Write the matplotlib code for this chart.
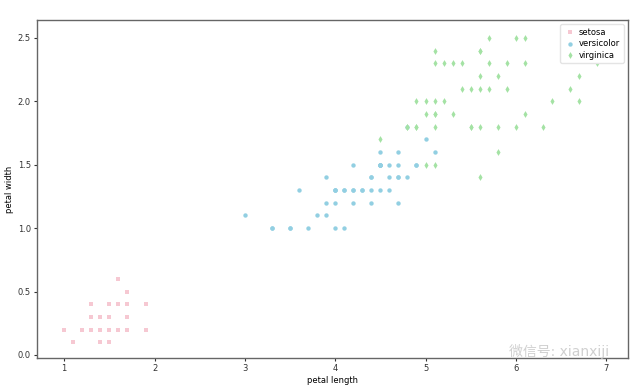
import matplotlib.pyplot as plt

plt.rcParams['font.family'] = ['DejaVu Sans', 'Noto Sans CJK SC']

setosa_len = [1.4, 1.4, 1.3, 1.5, 1.4, 1.7, 1.4, 1.5, 1.4, 1.5, 1.5, 1.6, 1.4, 1.1, 1.2, 1.5, 1.3,
              1.4, 1.7, 1.5, 1.7, 1.5, 1.0, 1.7, 1.9, 1.6, 1.6, 1.5, 1.4, 1.6, 1.6, 1.5, 1.5, 1.4,
              1.5, 1.2, 1.3, 1.4, 1.3, 1.5, 1.3, 1.3, 1.3, 1.6, 1.9, 1.4, 1.6, 1.4, 1.5, 1.4]
setosa_wid = [0.2, 0.2, 0.2, 0.2, 0.2, 0.4, 0.3, 0.2, 0.2, 0.1, 0.2, 0.2, 0.1, 0.1, 0.2, 0.4, 0.4,
              0.3, 0.3, 0.3, 0.2, 0.4, 0.2, 0.5, 0.2, 0.2, 0.4, 0.2, 0.2, 0.2, 0.2, 0.4, 0.1, 0.2,
              0.2, 0.2, 0.2, 0.1, 0.2, 0.2, 0.3, 0.3, 0.2, 0.6, 0.4, 0.3, 0.2, 0.2, 0.2, 0.2]

versicolor_len = [4.7, 4.5, 4.9, 4.0, 4.6, 4.5, 4.7, 3.3, 4.6, 3.9, 3.5, 4.2, 4.0, 4.7, 3.6, 4.4, 4.5,
                  4.1, 4.5, 3.9, 4.8, 4.0, 4.9, 4.7, 4.3, 4.4, 4.8, 5.0, 4.5, 3.5, 3.8, 3.7, 3.9, 5.1,
                  4.5, 4.5, 4.7, 4.4, 4.1, 4.0, 4.4, 4.6, 4.0, 3.3, 4.2, 4.2, 4.2, 4.3, 3.0, 4.1]
versicolor_wid = [1.4, 1.5, 1.5, 1.3, 1.5, 1.3, 1.6, 1.0, 1.3, 1.4, 1.0, 1.5, 1.0, 1.4, 1.3, 1.4, 1.5,
                  1.0, 1.5, 1.1, 1.8, 1.3, 1.5, 1.2, 1.3, 1.4, 1.4, 1.7, 1.5, 1.0, 1.1, 1.0, 1.2, 1.6,
                  1.5, 1.6, 1.5, 1.3, 1.3, 1.3, 1.2, 1.4, 1.2, 1.0, 1.3, 1.2, 1.3, 1.3, 1.1, 1.3]

virginica_len = [6.0, 5.1, 5.9, 5.6, 5.8, 6.6, 4.5, 6.3, 5.8, 6.1, 5.1, 5.3, 5.5, 5.0, 5.1, 5.3, 5.5,
                 6.7, 6.9, 5.0, 5.7, 4.9, 6.7, 4.9, 5.7, 6.0, 4.8, 4.9, 5.6, 5.8, 6.1, 6.4, 5.6, 5.1,
                 5.6, 6.1, 5.6, 5.5, 4.8, 5.4, 5.6, 5.1, 5.1, 5.9, 5.7, 5.2, 5.0, 5.2, 5.4, 5.1]
virginica_wid = [2.5, 1.9, 2.1, 1.8, 2.2, 2.1, 1.7, 1.8, 1.8, 2.5, 2.0, 1.9, 2.1, 2.0, 2.4, 2.3, 1.8,
                 2.2, 2.3, 1.5, 2.3, 2.0, 2.0, 1.8, 2.1, 1.8, 1.8, 1.8, 2.1, 1.6, 1.9, 2.0, 2.2, 1.5,
                 1.4, 2.3, 2.4, 1.8, 1.8, 2.1, 2.4, 2.3, 1.9, 2.3, 2.5, 2.3, 1.9, 2.0, 2.3, 1.8]

fig = plt.figure(figsize=(6.4, 3.88), dpi=100)
ax = fig.add_axes([0.058, 0.077, 0.923, 0.871])

ax.scatter(setosa_len, setosa_wid, c='#f6c8d2', marker='s', s=8, linewidths=0, label='setosa')
ax.scatter(versicolor_len, versicolor_wid, c='#92cfe2', marker='o', s=10, linewidths=0, label='versicolor')
ax.scatter(virginica_len, virginica_wid, c='#a4e2a4', marker='d', s=12, linewidths=0, label='virginica')

ax.set_xlim(0.7, 7.24)
ax.set_ylim(-0.025, 2.64)
ax.set_xticks([1, 2, 3, 4, 5, 6, 7])
ax.set_yticks([0.0, 0.5, 1.0, 1.5, 2.0, 2.5])
ax.tick_params(labelsize=6, length=2.5, width=0.8, colors='#333333', pad=2)
for sp in ax.spines.values():
    sp.set_color('#666666')
    sp.set_linewidth(1.0)
ax.set_xlabel('petal length', fontsize=6, labelpad=2)
ax.set_ylabel('petal width', fontsize=6, labelpad=3)
ax.legend(loc='upper right', fontsize=6, markerscale=1.0, handletextpad=0.3,
          borderpad=0.4, labelspacing=0.3, handlelength=1.6,
          framealpha=1.0, edgecolor='#e4e4e4', borderaxespad=0.5)

fig.text(0.795, 0.082, '微信号: xianxiji', fontsize=10, color='#c4c4c4', alpha=0.8)

plt.savefig('out.png', dpi=100)
